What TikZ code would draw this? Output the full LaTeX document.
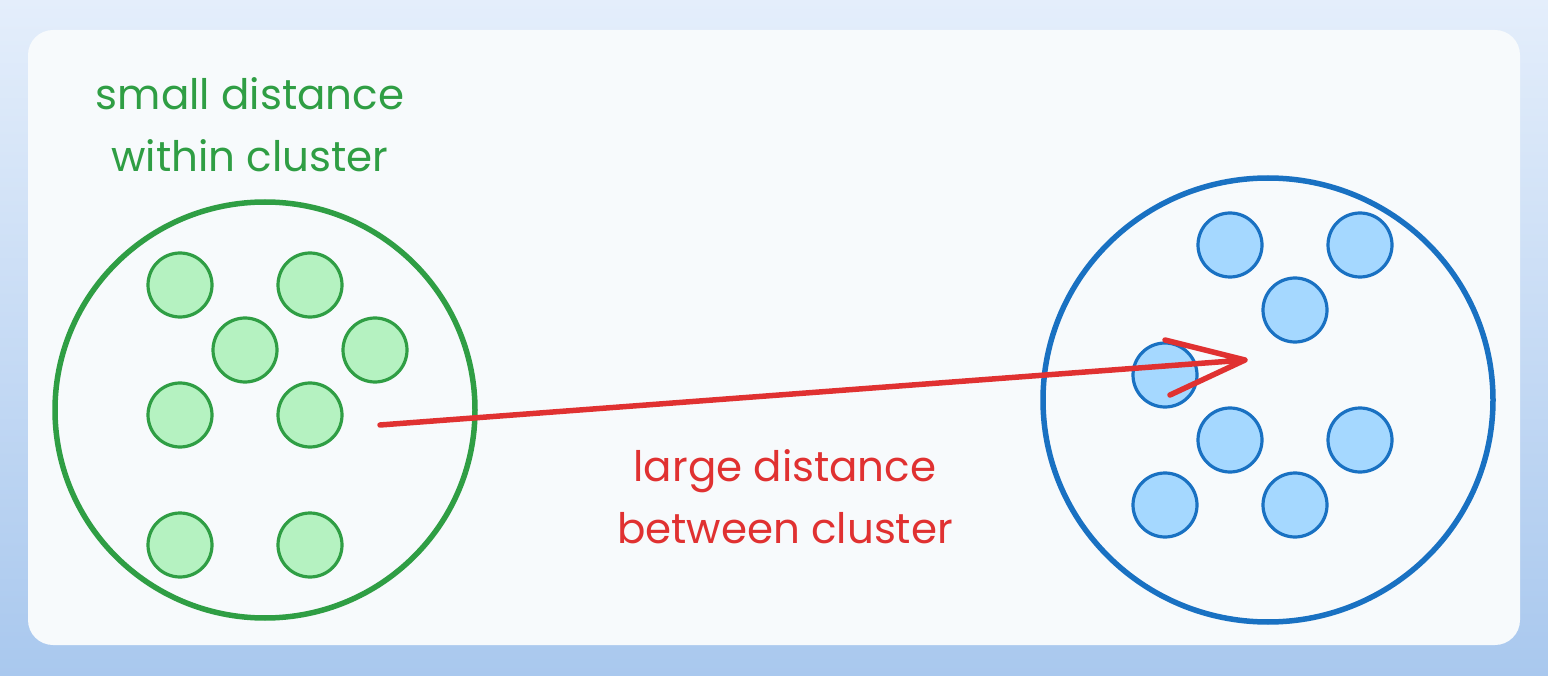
\documentclass[tikz,border=0pt]{standalone}
\usepackage{fontspec}
\setmainfont{Poppins}
\begin{document}
\begin{tikzpicture}[x=1pt,y=-1pt,
  gdot/.style={circle,draw=gstroke,fill=gfill,line width=3.2pt,minimum size=64pt,inner sep=0pt},
  bdot/.style={circle,draw=bstroke,fill=bfill,line width=3.2pt,minimum size=64pt,inner sep=0pt},
  lbl/.style={align=center,font=\fontsize{42}{62}\selectfont}]
\definecolor{gstroke}{HTML}{2F9E44}\definecolor{gfill}{HTML}{B5F2C1}
\definecolor{bstroke}{HTML}{1971C2}\definecolor{bfill}{HTML}{A5D8FF}
\definecolor{red}{HTML}{E03131}
\definecolor{bgtop}{HTML}{E4EEFB}\definecolor{bgbot}{HTML}{A9C8EE}
\definecolor{card}{HTML}{F7FAFC}
\useasboundingbox (0,0) rectangle (1548,676);
\shade[top color=bgtop,bottom color=bgbot] (0,0) rectangle (1548,676);
\fill[card,rounded corners=25pt] (28,30) rectangle (1520,645);
\draw[gstroke,line width=5.5pt] (265,410) ellipse [x radius=210,y radius=208];
\draw[bstroke,line width=5.5pt] (1268,400) ellipse [x radius=225,y radius=222];
\foreach \n/\p in {g1/{(180,285)},g2/{(310,285)},g3/{(245,350)},g4/{(375,350)},g5/{(180,415)},g6/{(310,415)},g7/{(180,545)},g8/{(310,545)}}
  \node[gdot] (\n) at \p {};
\foreach \n/\p in {b1/{(1230,245)},b2/{(1360,245)},b3/{(1295,310)},b4/{(1165,375)},b5/{(1230,440)},b6/{(1360,440)},b7/{(1165,505)},b8/{(1295,505)}}
  \node[bdot] (\n) at \p {};
\coordinate (s) at (380,425);
\coordinate (t) at (1245,360);
\coordinate (h1) at (1165,340);
\coordinate (h2) at (1170,395);
\draw[red,line width=5.5pt,line cap=round,line join=round] (s) -- (t) (h1) -- (t) -- (h2);
\node[lbl,text=gstroke] (gl) at (250,125) {small distance\\within cluster};
\node[lbl,text=red] (rl) at (785,497) {large distance\\between cluster};
\end{tikzpicture}
\end{document}
